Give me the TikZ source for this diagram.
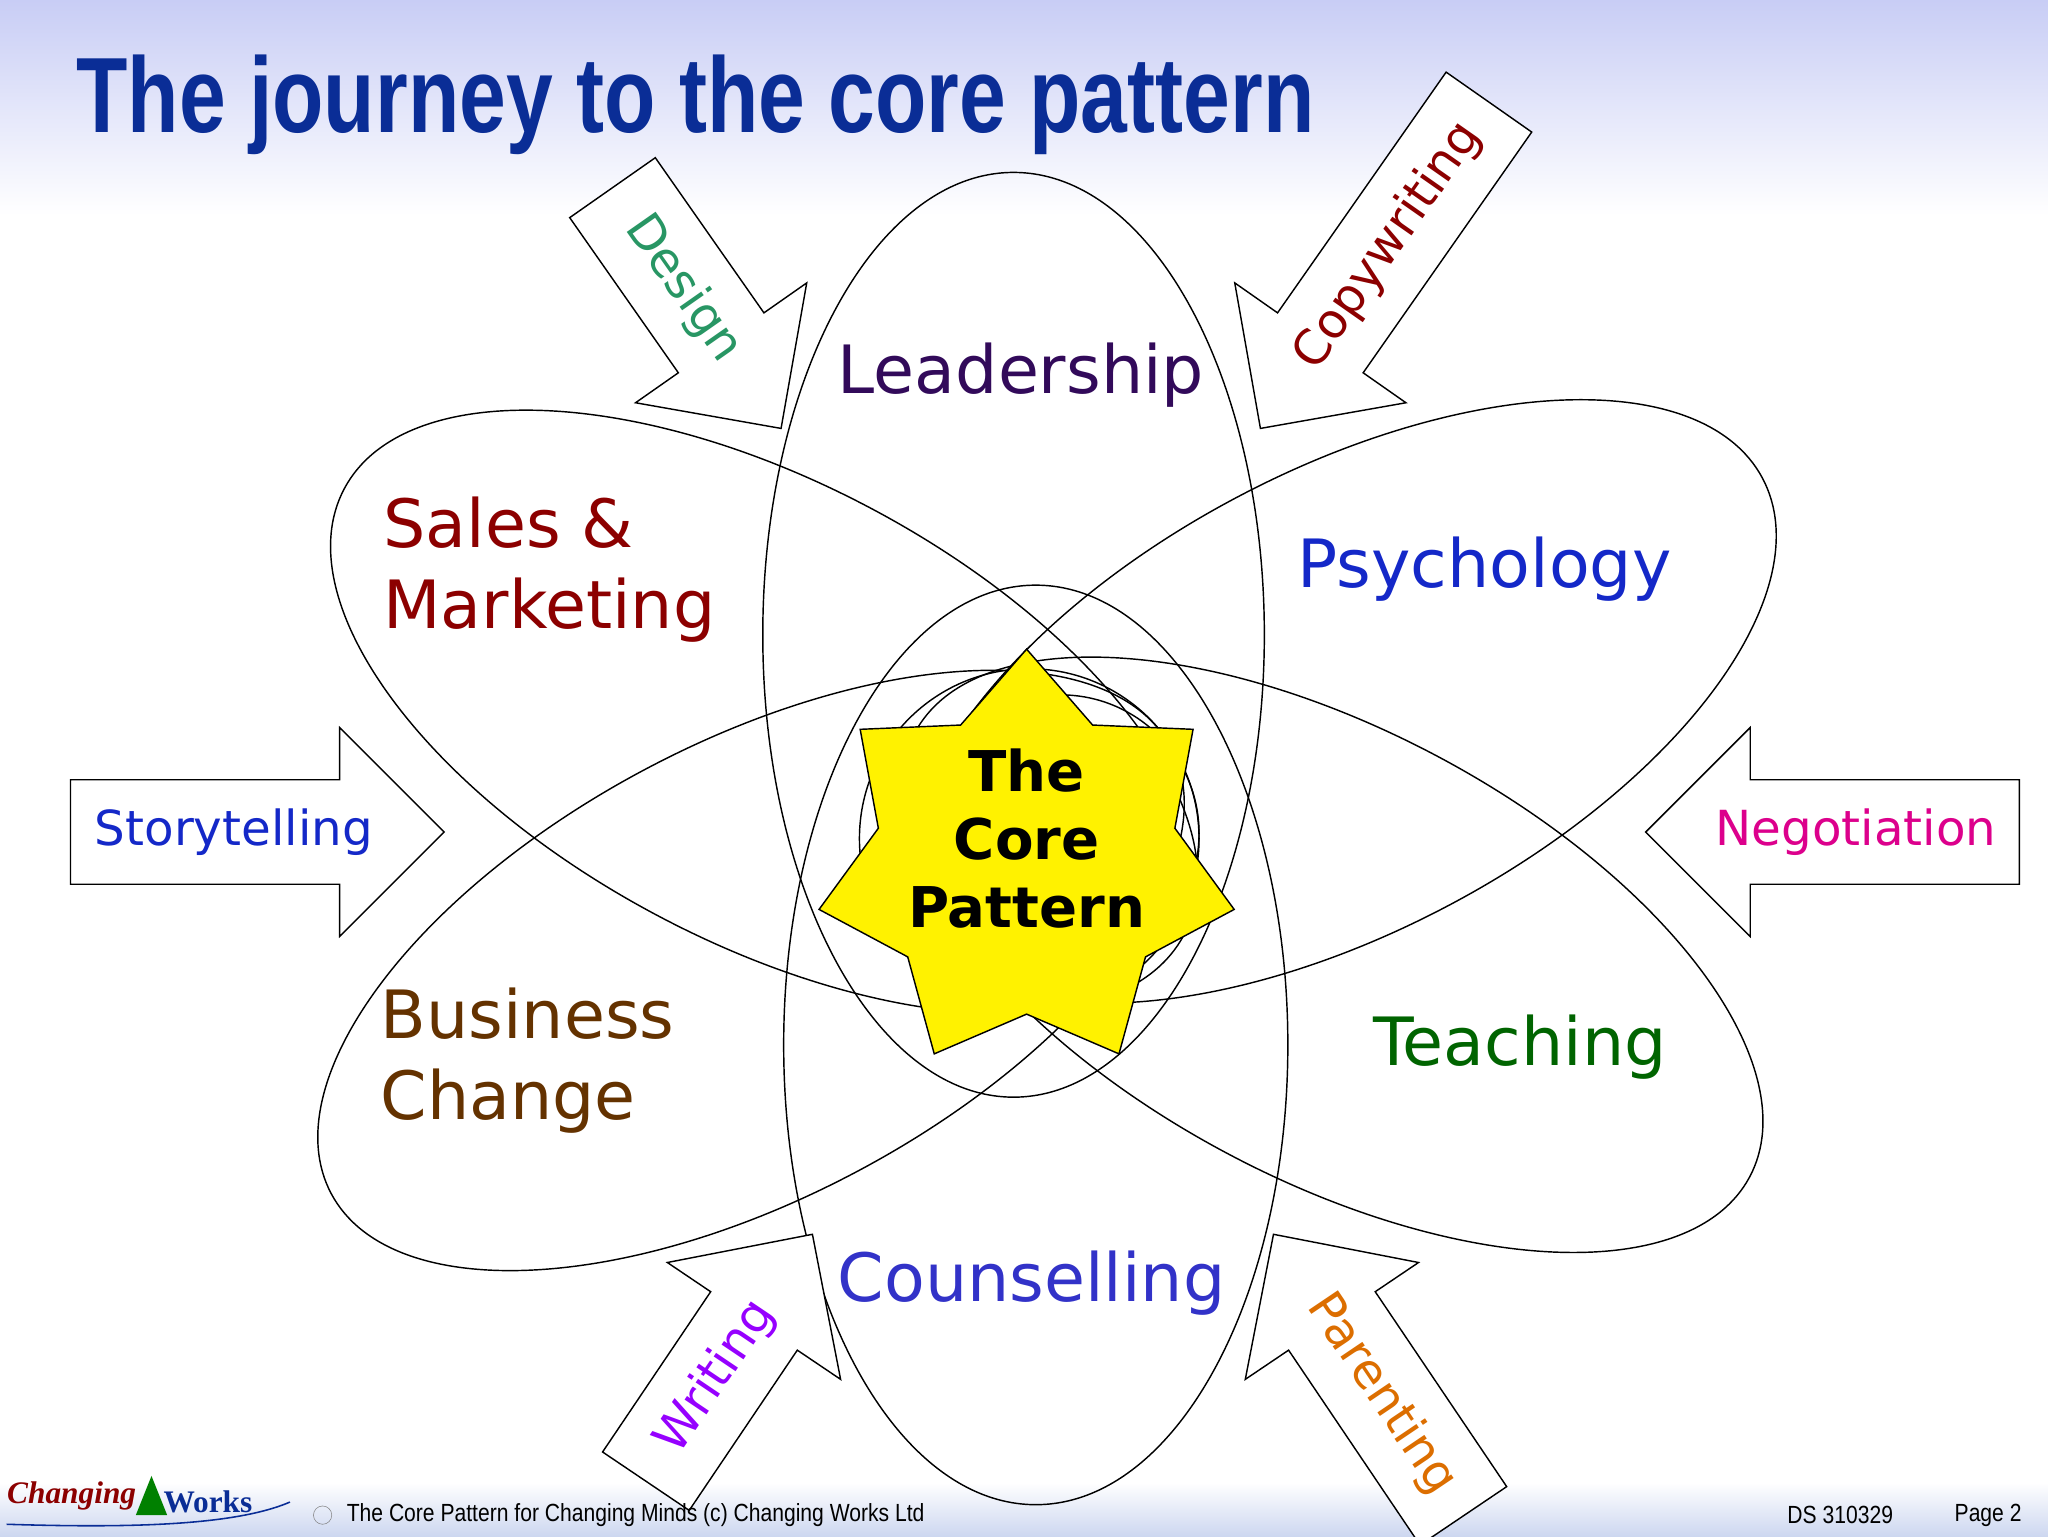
\documentclass[tikz,border=0pt]{standalone}
\usepackage{fontspec}
\usetikzlibrary{shapes.geometric}
\setmainfont{DejaVu Sans}
\newfontfamily\titlefont[FakeStretch=0.785]{Liberation Sans}
\newfontfamily\footfont[FakeStretch=0.85]{Liberation Sans}
\newfontfamily\logofont{Liberation Serif}
\definecolor{ctitle}{RGB}{10,45,150}
\definecolor{clead}{RGB}{50,10,90}
\definecolor{csales}{RGB}{140,0,0}
\definecolor{cpsy}{RGB}{20,40,200}
\definecolor{cbus}{RGB}{100,50,0}
\definecolor{cteach}{RGB}{0,100,0}
\definecolor{ccoun}{RGB}{50,50,200}
\definecolor{cneg}{RGB}{220,0,140}
\definecolor{cdes}{RGB}{40,150,100}
\definecolor{cwrit}{RGB}{150,0,255}
\definecolor{cpar}{RGB}{220,110,0}
\definecolor{bgtop}{RGB}{200,205,245}
\definecolor{bgfoot}{RGB}{205,215,240}
\tikzset{
  lab/.style={font=\fontsize{51}{62}\selectfont, align=left, anchor=west},
  alab/.style={font=\fontsize{37}{40}\selectfont},
  ell/.style={draw=black, line width=1.1pt}
}
\newcommand{\blockarrow}[7]{% tip x, tip y, angle, length, text, color, text rotation
  \begin{scope}[shift={(#1,#2)}, rotate=#3]
    \draw[line width=1.1pt, fill=white] (0,0) -- (80,80) -- (80,40) -- (#4,40) -- (#4,-40) -- (80,-40) -- (80,-80) -- cycle;
    \node[alab, text=#6, rotate=#7] (n#5) at ({(80+#4)/2-22},0) {#5};
  \end{scope}}
\begin{document}
\begin{tikzpicture}[x=1pt,y=-1pt]
\useasboundingbox (0,0) rectangle (1568,1176);
\shade[top color=bgtop, bottom color=white] (0,0) rectangle (1568,165);
\shade[top color=white, bottom color=bgfoot] (0,1135) rectangle (1568,1176);
\node[anchor=west, text=ctitle, font=\titlefont\bfseries\fontsize{82}{90}\selectfont] (title) at (55,80) {The journey to the core pattern};
% ellipses
\draw[ell] (776,486) ellipse [x radius=192, y radius=354];
\draw[ell] (793,800) ellipse [x radius=193, y radius=352];
\draw[ell] (585,545) ellipse [x radius=364, y radius=176, rotate=-28];
\draw[ell] (1028,537) ellipse [x radius=364, y radius=176, rotate=28];
\draw[ell] (575,743) ellipse [x radius=364, y radius=174, rotate=28];
\draw[ell] (1020,731) ellipse [x radius=362, y radius=172, rotate=-28];
\draw[ell] (788,642) circle [radius=130];
\draw[ell] (812,638) circle [radius=106];
% star
\node[star, star points=7, star point ratio=1.4, minimum size=326pt, inner sep=0pt, draw=black, line width=1.1pt, fill=yellow] (star) at (786,660) {};
\node[font=\bfseries\fontsize{43}{52}\selectfont, align=center] (core) at (786,642) {The\\Core\\Pattern};
% labels
\node[lab, text=clead] (lead) at (638,287) {Leadership};
\node[lab, text=csales] (sales) at (290,436) {Sales \&\\Marketing};
\node[lab, text=cpsy] (psy) at (990,436) {Psychology};
\node[lab, text=cbus] (bus) at (288,812) {Business\\Change};
\node[lab, text=cteach] (teach) at (1048,802) {Teaching};
\node[lab, text=ccoun] (coun) at (638,982) {Counselling};
% arrows
\blockarrow{340}{637}{180}{286}{Storytelling}{cpsy}{0}
\blockarrow{1260}{637}{0}{286}{Negotiation}{cneg}{0}
\blockarrow{598}{328}{125}{225}{Design}{cdes}{-55}
\blockarrow{965}{328}{55}{305}{Copywriting}{csales}{55}
\blockarrow{622}{945}{236}{228}{Writing}{cwrit}{56}
\blockarrow{975}{945}{-56}{260}{Parenting}{cpar}{-56}
% footer
\node[anchor=west, font=\logofont\itshape\bfseries\fontsize{24}{26}\selectfont, text=csales] (lg1) at (2,1145) {Changing};
\fill[green!50!black] (104,1160) -- (116,1130) -- (128,1160) -- cycle;
\node[anchor=west, inner sep=0pt, font=\logofont\bfseries\fontsize{24}{26}\selectfont, text=ctitle] (lg2) at (125,1150) {Works};
\draw[ctitle, line width=1.2pt] (5,1167) .. controls (100,1170) and (180,1168) .. (222,1150);
\draw[gray] (247,1160) circle [radius=7];
\node[anchor=west, font=\footfont\fontsize{19}{20}\selectfont] (foot) at (262,1160) {The Core Pattern for Changing Minds (c) Changing Works Ltd};
\node[anchor=west, font=\footfont\fontsize{19}{20}\selectfont] (ds) at (1365,1160) {DS 310329};
\node[anchor=west, font=\footfont\fontsize{19}{20}\selectfont] (pg) at (1493,1160) {Page 2};
\end{tikzpicture}
\end{document}
